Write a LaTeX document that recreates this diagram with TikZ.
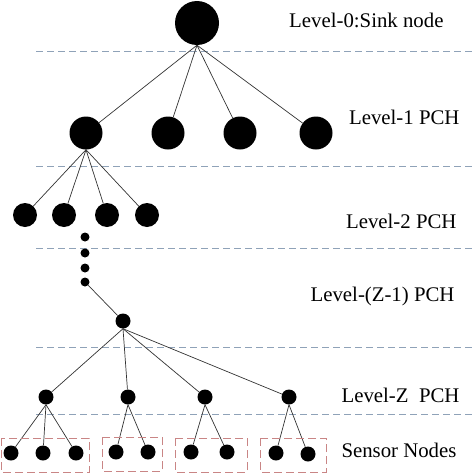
\documentclass[tikz,border=0pt]{standalone}
\usepackage{fontspec}
\setmainfont{Liberation Serif}
\definecolor{lineblue}{HTML}{8FA2B8}
\definecolor{boxred}{HTML}{C98585}
\begin{document}
\begin{tikzpicture}[x=1pt, y=-1pt,
    dot/.style={circle, fill=black, inner sep=0pt, minimum size=#1},
    link/.style={draw=black!80, line width=0.7pt},
    levelline/.style={draw=lineblue, dash pattern=on 7pt off 4pt, line width=0.8pt},
    groupbox/.style={draw=boxred, dash pattern=on 8pt off 4pt, line width=1pt},
    levellabel/.style={anchor=base east, font=\rmfamily\fontsize{20.8}{25}\selectfont}]
    \useasboundingbox (0,0) rectangle (474,474);
    % level separators
    \foreach \y in {51,166,248,347,414}
        \draw[levelline] (36,\y) -- (474,\y);
    % sink and PCH levels
    \node[dot=44pt] (sink) at (197,23) {};
    \node[dot=33pt] (p1) at (86,133) {};
    \node[dot=33pt] (p2) at (168,133) {};
    \node[dot=33pt] (p3) at (240,133) {};
    \node[dot=33pt] (p4) at (316,133) {};
    \node[dot=24pt] (q1) at (25,215) {};
    \node[dot=24pt] (q2) at (64,215) {};
    \node[dot=24pt] (q3) at (107,215) {};
    \node[dot=24pt] (q4) at (147,215) {};
    \foreach \i/\y in {1/237,2/253,3/268,4/282}
        \node[dot=9pt] (d\i) at (85,\y) {};
    \node[dot=15pt] (zm) at (123,321) {};
    \node[dot=15pt] (z1) at (46,397) {};
    \node[dot=15pt] (z2) at (128,397) {};
    \node[dot=15pt] (z3) at (205,397) {};
    \node[dot=15pt] (z4) at (289,397) {};
    % sensor nodes
    \node[dot=15pt] (s1) at (11,453) {};
    \node[dot=15pt] (s2) at (43,453) {};
    \node[dot=15pt] (s3) at (76,453) {};
    \node[dot=15pt] (s4) at (116,452) {};
    \node[dot=15pt] (s5) at (148,452) {};
    \node[dot=15pt] (s6) at (191,452) {};
    \node[dot=15pt] (s7) at (227,452) {};
    \node[dot=15pt] (s8) at (276,453) {};
    \node[dot=15pt] (s9) at (308,454) {};
    % links
    \foreach \i in {1,...,4} {
        \draw[link] (sink.south) -- (p\i);
        \draw[link] (p1.south) -- (q\i);
        \draw[link] (zm.south) -- (z\i);
    }
    \draw[link] (d4) -- (zm);
    \foreach \i in {1,2,3}
        \draw[link] (z1.south) -- (s\i);
    \draw[link] (z2.south) -- (s4);
    \draw[link] (z2.south) -- (s5);
    \draw[link] (z3.south) -- (s6);
    \draw[link] (z3.south) -- (s7);
    \draw[link] (z4.south) -- (s8);
    \draw[link] (z4.south) -- (s9);
    % sensor groups
    \draw[groupbox] (1,438) rectangle (89,472);
    \draw[groupbox] (102,437) rectangle (162,471);
    \draw[groupbox] (175,438) rectangle (247,472);
    \draw[groupbox] (260,438) rectangle (326,472);
    % level labels
    \node[levellabel] (l0) at (447,27) {Level-0:Sink node};
    \node[levellabel] (l1) at (463,124) {Level-1 PCH};
    \node[levellabel] (l2) at (460,228) {Level-2 PCH};
    \node[levellabel] (lzm) at (458,301) {Level-(Z-1) PCH};
    \node[levellabel] (lz) at (463,402) {Level-Z\ \ PCH};
    \node[levellabel] (ls) at (460,457) {Sensor Nodes};
\end{tikzpicture}
\end{document}
